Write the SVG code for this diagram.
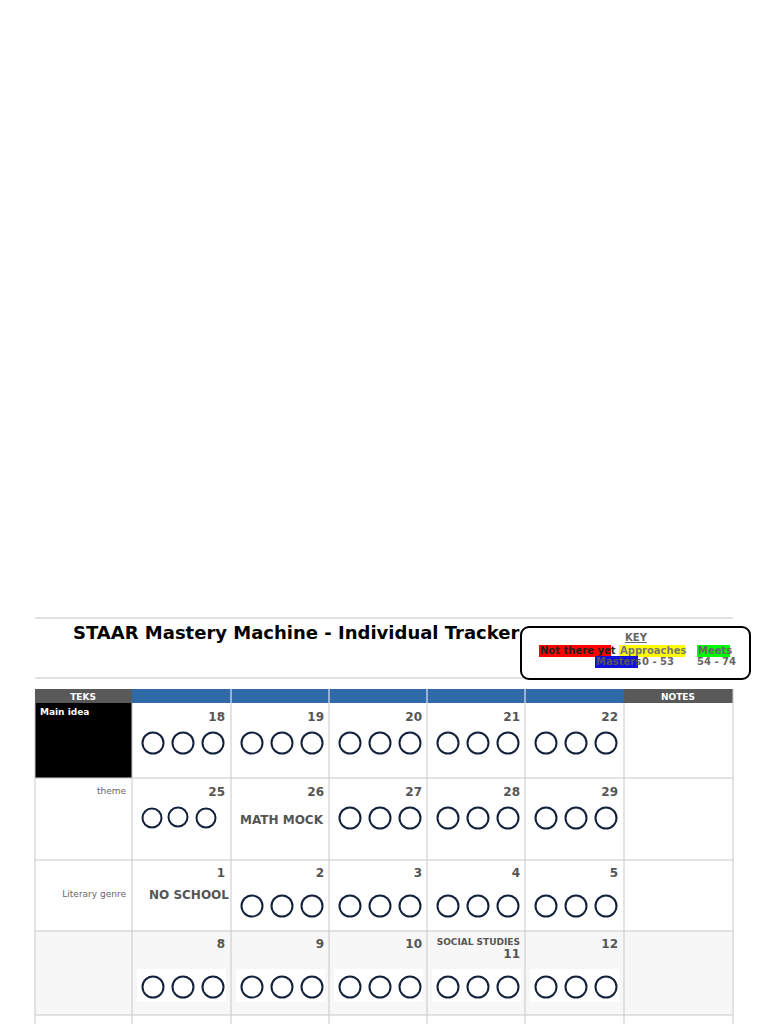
<svg xmlns="http://www.w3.org/2000/svg" width="768" height="1024" viewBox="0 0 768 1024">
<style>
text{font-family:"DejaVu Sans",sans-serif}
.c{fill:none;stroke:#14213d;stroke-width:2}
.n{font-size:12px;font-weight:bold;fill:#555;text-anchor:end}
.g{stroke:#c8c8c8;stroke-width:1;fill:none}
.hd{font-size:9px;font-weight:bold;fill:#fff;text-anchor:middle}
.lb{font-size:9px;fill:#666;text-anchor:end}
.big{font-size:12px;font-weight:bold;fill:#555}
</style>
<rect width="768" height="1024" fill="#fff"/>
<g id="title">
<line x1="35" y1="618" x2="733" y2="618" class="g"/>
<line x1="35" y1="678" x2="733" y2="678" class="g"/>
<text x="73" y="639" font-size="18" font-weight="bold" fill="#000">STAAR Mastery Machine  - Individual Tracker</text>
</g>
<g id="key">
<rect x="521" y="627" width="229" height="52" rx="8" fill="#fff" stroke="#000" stroke-width="2"/>
<text x="636" y="641" font-size="10" font-weight="bold" fill="#666" text-anchor="middle" text-decoration="underline">KEY</text>
<rect x="539" y="645" width="72" height="12" fill="#f00"/>
<text x="540" y="654" font-size="10" font-weight="bold" fill="#222">Not there yet</text>
<rect x="619" y="645" width="66" height="12" fill="#ff0"/>
<text x="620" y="654" font-size="10" font-weight="bold" fill="#777">Approaches</text>
<rect x="697" y="645" width="33" height="12" fill="#0f0"/>
<text x="698" y="654" font-size="10" font-weight="bold" fill="#666">Meets</text>
<rect x="595" y="656" width="43" height="12" fill="#11d"/>
<text x="596" y="665" font-size="10" font-weight="bold" fill="#555">Masters</text>
<text x="642" y="665" font-size="10" font-weight="bold" fill="#666">0 - 53</text>
<text x="697" y="665" font-size="10" font-weight="bold" fill="#666">54 - 74</text>
</g>
<g id="grid">
<rect x="35" y="931" width="698" height="84" fill="#f7f7f7"/>
<rect x="35" y="689" width="97" height="14" fill="#595959"/>
<rect x="132" y="689" width="492" height="14" fill="#2f69a8"/>
<rect x="624" y="689" width="109" height="14" fill="#595959"/>
<rect x="35" y="703" width="97" height="75" fill="#000"/>
<g stroke="#fff" stroke-width="1">
<line x1="231" y1="689" x2="231" y2="703"/><line x1="329" y1="689" x2="329" y2="703"/><line x1="427" y1="689" x2="427" y2="703"/><line x1="525" y1="689" x2="525" y2="703"/>
</g>
<g class="g">
<line x1="35" y1="703" x2="35" y2="1024"/><line x1="132" y1="703" x2="132" y2="1024"/><line x1="231" y1="703" x2="231" y2="1024"/><line x1="329" y1="703" x2="329" y2="1024"/><line x1="427" y1="703" x2="427" y2="1024"/><line x1="525" y1="703" x2="525" y2="1024"/><line x1="624" y1="703" x2="624" y2="1024"/><line x1="733" y1="689" x2="733" y2="1024"/>
<line x1="35" y1="778" x2="733" y2="778"/><line x1="35" y1="860" x2="733" y2="860"/><line x1="35" y1="931" x2="733" y2="931"/><line x1="35" y1="1015" x2="733" y2="1015"/>
</g>
<g fill="#fff"><rect x="137" y="969" width="89" height="33"/><rect x="236" y="969" width="89" height="33"/><rect x="334" y="969" width="89" height="33"/><rect x="432" y="969" width="89" height="33"/><rect x="530" y="969" width="89" height="33"/></g>
<text x="83" y="700" class="hd">TEKS</text>
<text x="678" y="700" class="hd">NOTES</text>
<text x="40" y="715" font-size="9" font-weight="bold" fill="#fff">Main idea</text>
<text x="126" y="794" class="lb">theme</text>
<text x="126" y="897" class="lb">Literary genre</text>
</g>
<g id="days">
<text x="225" y="721" class="n">18</text><text x="324" y="721" class="n">19</text><text x="422" y="721" class="n">20</text><text x="520" y="721" class="n">21</text><text x="618" y="721" class="n">22</text>
<text x="225" y="796" class="n">25</text><text x="324" y="796" class="n">26</text><text x="422" y="796" class="n">27</text><text x="520" y="796" class="n">28</text><text x="618" y="796" class="n">29</text>
<text x="225" y="877" class="n">1</text><text x="324" y="877" class="n">2</text><text x="422" y="877" class="n">3</text><text x="520" y="877" class="n">4</text><text x="618" y="877" class="n">5</text>
<text x="225" y="948" class="n">8</text><text x="324" y="948" class="n">9</text><text x="422" y="948" class="n">10</text><text x="520" y="958" class="n">11</text><text x="618" y="948" class="n">12</text>
<text x="520" y="945" font-size="9" font-weight="bold" fill="#555" text-anchor="end">SOCIAL STUDIES</text>
<text x="240" y="824" class="big">MATH MOCK</text>
<text x="149" y="899" class="big">NO SCHOOL</text>
</g>
<g id="circles" class="c">
<circle cx="153" cy="743" r="10.5"/><circle cx="183" cy="743" r="10.5"/><circle cx="213" cy="743" r="10.5"/>
<circle cx="252" cy="743" r="10.5"/><circle cx="282" cy="743" r="10.5"/><circle cx="312" cy="743" r="10.5"/>
<circle cx="350" cy="743" r="10.5"/><circle cx="380" cy="743" r="10.5"/><circle cx="410" cy="743" r="10.5"/>
<circle cx="448" cy="743" r="10.5"/><circle cx="478" cy="743" r="10.5"/><circle cx="508" cy="743" r="10.5"/>
<circle cx="546" cy="743" r="10.5"/><circle cx="576" cy="743" r="10.5"/><circle cx="606" cy="743" r="10.5"/>
<circle cx="152" cy="818" r="9.5"/><circle cx="178" cy="817" r="9.5"/><circle cx="206" cy="818" r="9.5"/>
<circle cx="350" cy="818" r="10.5"/><circle cx="380" cy="818" r="10.5"/><circle cx="410" cy="818" r="10.5"/>
<circle cx="448" cy="818" r="10.5"/><circle cx="478" cy="818" r="10.5"/><circle cx="508" cy="818" r="10.5"/>
<circle cx="546" cy="818" r="10.5"/><circle cx="576" cy="818" r="10.5"/><circle cx="606" cy="818" r="10.5"/>
<circle cx="252" cy="906" r="10.5"/><circle cx="282" cy="906" r="10.5"/><circle cx="312" cy="906" r="10.5"/>
<circle cx="350" cy="906" r="10.5"/><circle cx="380" cy="906" r="10.5"/><circle cx="410" cy="906" r="10.5"/>
<circle cx="448" cy="906" r="10.5"/><circle cx="478" cy="906" r="10.5"/><circle cx="508" cy="906" r="10.5"/>
<circle cx="546" cy="906" r="10.5"/><circle cx="576" cy="906" r="10.5"/><circle cx="606" cy="906" r="10.5"/>
<circle cx="153" cy="987" r="10.5"/><circle cx="183" cy="987" r="10.5"/><circle cx="213" cy="987" r="10.5"/>
<circle cx="252" cy="987" r="10.5"/><circle cx="282" cy="987" r="10.5"/><circle cx="312" cy="987" r="10.5"/>
<circle cx="350" cy="987" r="10.5"/><circle cx="380" cy="987" r="10.5"/><circle cx="410" cy="987" r="10.5"/>
<circle cx="448" cy="987" r="10.5"/><circle cx="478" cy="987" r="10.5"/><circle cx="508" cy="987" r="10.5"/>
<circle cx="546" cy="987" r="10.5"/><circle cx="576" cy="987" r="10.5"/><circle cx="606" cy="987" r="10.5"/>
</g>
</svg>
